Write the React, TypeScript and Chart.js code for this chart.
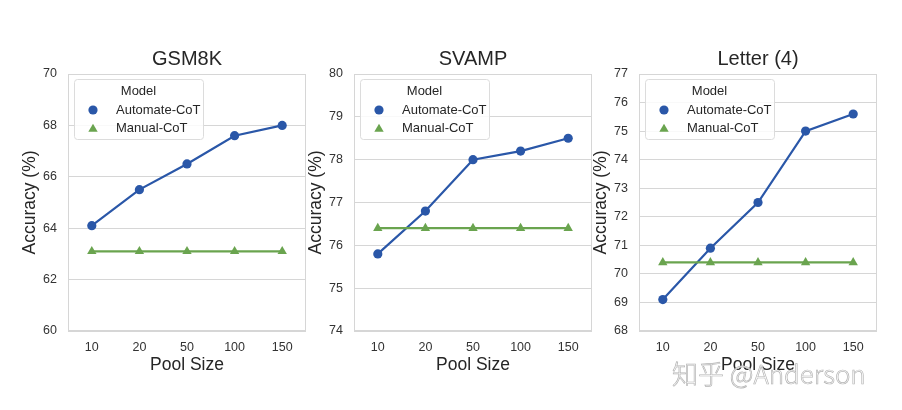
import React, { useEffect, useRef } from "react";
import { Chart, registerables } from "chart.js";

Chart.register(...registerables);

// ---- data ----
const POOL_SIZES = ["10", "20", "50", "100", "150"];
const SERIES_NAMES = ["Automate-CoT", "Manual-CoT"];
const LEGEND_TITLE = "Model";
const X_TITLE = "Pool Size";
const Y_TITLE = "Accuracy (%)";

const GSM8K_AUTO = [64.1, 65.5, 66.5, 67.6, 68.0];
const GSM8K_MANUAL = [63.1, 63.1, 63.1, 63.1, 63.1];
const SVAMP_AUTO = [75.8, 76.8, 78.0, 78.2, 78.5];
const SVAMP_MANUAL = [76.4, 76.4, 76.4, 76.4, 76.4];
const LETTER_AUTO = [69.1, 70.9, 72.5, 75.0, 75.6];
const LETTER_MANUAL = [70.4, 70.4, 70.4, 70.4, 70.4];

const PANEL_TITLES = ["GSM8K", "SVAMP", "Letter (4)"];
const Y_MIN = [60, 74, 68];
const Y_MAX = [70, 80, 77];
const Y_STEP = [2, 1, 1];

// ---- style ----
const BLUE = "#2a57a8";
const GREEN = "#6aa44f";
const GRID = "#d6d6d6";
const TEXT = "#262626";
const TICK = "#333333";
const FONT = "'Liberation Sans', Arial, sans-serif";

const PANEL_LEFT = [20, 306, 591];
const PANEL_RIGHT = [596, 310, 25];

const framePlugin = {
  id: "frame",
  afterDraw(chart: any) {
    const { ctx, chartArea: a } = chart;
    ctx.save();
    ctx.strokeStyle = GRID;
    ctx.lineWidth = 1;
    ctx.strokeRect(a.left + 0.5, a.top + 0.5, a.right - a.left - 1, a.bottom - a.top - 1);
    ctx.restore();
  },
};

function drawMarker(ctx: CanvasRenderingContext2D, style: string, x: number, y: number, r: number, color: string) {
  ctx.save();
  ctx.fillStyle = color;
  ctx.beginPath();
  if (style === "triangle") {
    const rad0 = -Math.PI / 2;
    for (let k = 0; k < 3; k++) {
      const ang = rad0 + (k * 2 * Math.PI) / 3;
      const px = x + Math.cos(ang) * r;
      const py = y + Math.sin(ang) * r + r * 0.2;
      if (k === 0) ctx.moveTo(px, py);
      else ctx.lineTo(px, py);
    }
    ctx.closePath();
  } else {
    ctx.arc(x, y, r, 0, Math.PI * 2);
  }
  ctx.fill();
  ctx.restore();
}

const legendPlugin = {
  id: "insideLegend",
  afterDraw(chart: any) {
    const { ctx, chartArea: a } = chart;
    const x = a.left + 6;
    const y = a.top + 5;
    const w = 129;
    const h = 60;
    ctx.save();
    ctx.beginPath();
    (ctx as any).roundRect(x + 0.5, y + 0.5, w, h, 3);
    ctx.fillStyle = "rgba(255,255,255,0.85)";
    ctx.fill();
    ctx.strokeStyle = "#dcdcdc";
    ctx.lineWidth = 1;
    ctx.stroke();
    ctx.fillStyle = TEXT;
    ctx.font = `13px ${FONT}`;
    ctx.textAlign = "center";
    ctx.textBaseline = "middle";
    ctx.fillText(LEGEND_TITLE, x + w / 2, a.top + 17);
    ctx.textAlign = "left";
    chart.data.datasets.forEach((ds: any, i: number) => {
      const cy = a.top + 36 + i * 18;
      drawMarker(ctx, ds.pointStyle, a.left + 25, cy, ds.pointRadius, ds.pointBackgroundColor);
      ctx.fillStyle = TEXT;
      ctx.fillText(ds.label, a.left + 48, cy);
    });
    ctx.restore();
  },
};

function Panel({ idx, auto, manual }: { idx: number; auto: number[]; manual: number[] }) {
  const ref = useRef<HTMLCanvasElement | null>(null);
  useEffect(() => {
    if (!ref.current) return;
    const chart = new Chart(ref.current, {
      type: "line",
      data: {
        labels: POOL_SIZES,
        datasets: [
          {
            label: SERIES_NAMES[0],
            data: auto,
            borderColor: BLUE,
            backgroundColor: BLUE,
            pointBackgroundColor: BLUE,
            pointBorderColor: BLUE,
            pointBorderWidth: 0,
            pointStyle: "circle",
            pointRadius: 4.6,
            borderWidth: 2.2,
            tension: 0,
            order: 2,
          },
          {
            label: SERIES_NAMES[1],
            data: manual,
            borderColor: GREEN,
            backgroundColor: GREEN,
            pointBackgroundColor: GREEN,
            pointBorderColor: GREEN,
            pointBorderWidth: 0,
            pointStyle: "triangle",
            pointRadius: 5.4,
            borderWidth: 2.2,
            tension: 0,
            order: 1,
          },
        ] as any,
      },
      options: {
        responsive: false,
        animation: false,
        events: [],
        layout: {
          padding: { left: PANEL_LEFT[idx], right: PANEL_RIGHT[idx], top: 47.5, bottom: 29 },
        },
        plugins: {
          legend: { display: false },
          tooltip: { enabled: false },
          title: {
            display: true,
            text: PANEL_TITLES[idx],
            fullSize: false,
            color: TEXT,
            font: { family: FONT, size: 20, weight: "normal" as any, lineHeight: 1.2 },
            padding: { top: 0, bottom: 2.5 },
          },
        },
        scales: {
          x: {
            type: "category",
            offset: true,
            grid: { display: false, drawTicks: false },
            border: { display: false },
            ticks: { color: TICK, padding: 9, font: { family: FONT, size: 12.5, lineHeight: 1.2 } },
            title: {
              display: true,
              text: X_TITLE,
              color: TEXT,
              font: { family: FONT, size: 17.5, lineHeight: 1.2 },
              padding: { top: 0, bottom: 5 },
            },
            afterFit(scale: any) {
              scale.height = 50;
            },
          },
          y: {
            min: Y_MIN[idx],
            max: Y_MAX[idx],
            grid: { color: GRID, lineWidth: 1, drawTicks: false },
            border: { display: false },
            ticks: {
              stepSize: Y_STEP[idx],
              color: TICK,
              padding: 11,
              font: { family: FONT, size: 12.5, lineHeight: 1.2 },
            },
            title: {
              display: true,
              text: Y_TITLE,
              color: TEXT,
              font: { family: FONT, size: 17.5, lineHeight: 1.2 },
              padding: { top: 0, bottom: 0 },
            },
            afterFit(scale: any) {
              scale.width = 48;
            },
          },
        },
      },
      plugins: [framePlugin, legendPlugin],
    });
    return () => chart.destroy();
  }, []);
  return (
    <canvas
      ref={ref}
      width={902}
      height={410}
      style={{ position: "absolute", left: 0, top: 0, width: 902, height: 410 }}
    />
  );
}

export default function App() {
  return (
    <div
      style={{
        position: "fixed",
        left: 0,
        top: 0,
        width: 902,
        height: 410,
        background: "#ffffff",
        overflow: "hidden",
      }}
    >
      <Panel idx={0} auto={GSM8K_AUTO} manual={GSM8K_MANUAL} />
      <Panel idx={1} auto={SVAMP_AUTO} manual={SVAMP_MANUAL} />
      <Panel idx={2} auto={LETTER_AUTO} manual={LETTER_MANUAL} />
      <div
        style={{
          position: "absolute",
          left: 672,
          top: 356,
          fontFamily: "'Noto Sans CJK SC', 'Noto Sans', sans-serif",
          fontSize: 26,
          fontWeight: 300,
          lineHeight: "34px",
          color: "rgba(255,255,255,0.85)",
          WebkitTextStroke: "0.7px #b4b4b4",
          whiteSpace: "nowrap",
          pointerEvents: "none",
        }}
      >
        知乎 @Anderson
      </div>
    </div>
  );
}
